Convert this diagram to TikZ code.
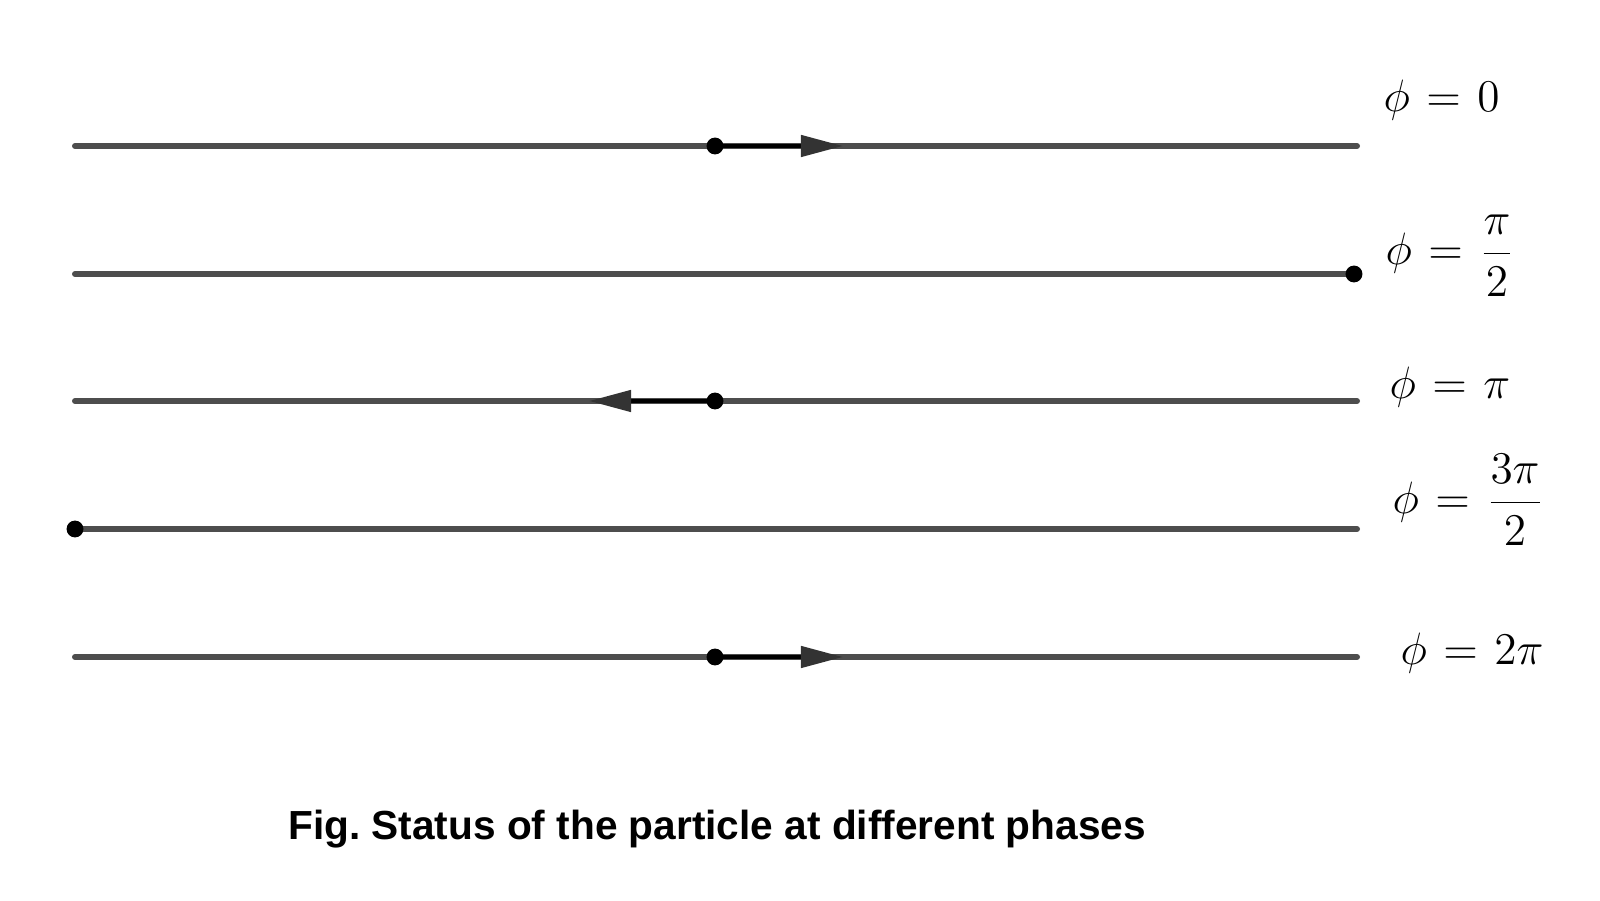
\RequirePackage{fix-cm}
\documentclass[tikz,border=0pt]{standalone}
\usepackage{amsmath}
\usepackage{fontspec}
\setsansfont{Liberation Sans}
\usetikzlibrary{arrows.meta}

\definecolor{rodgray}{RGB}{77,77,77}
\definecolor{headgray}{RGB}{51,51,51}

\begin{document}
\begin{tikzpicture}[x=0.01cm,y=-0.01cm,
    rod/.style={line width=1.7pt,rodgray,line cap=round},
    push/.style={line width=1.3pt,black,-{Triangle[length=12pt,width=6pt,color=headgray]}},
    particle/.style={circle,fill=black,inner sep=0pt,minimum size=4.8pt},
    phase/.style={anchor=base west,inner sep=0pt,font={\fontsize{12.9}{15}\selectfont\thickmuskip=6.5mu}}]
  \useasboundingbox (0,0) rectangle (1600,901);
  % ends of the five rods
  \coordinate (a1) at (75,146);  \coordinate (b1) at (1357,146);
  \coordinate (a2) at (75,274);  \coordinate (b2) at (1357,274);
  \coordinate (a3) at (75,401);  \coordinate (b3) at (1357,401);
  \coordinate (a4) at (75,529);  \coordinate (b4) at (1357,529);
  \coordinate (a5) at (75,657);  \coordinate (b5) at (1357,657);
  \draw[rod] (a1) -- (b1);
  \draw[rod] (a2) -- (b2);
  \draw[rod] (a3) -- (b3);
  \draw[rod] (a4) -- (b4);
  \draw[rod] (a5) -- (b5);
  % velocity arrows
  \coordinate (v1) at (843,146);
  \coordinate (v3) at (589,401);
  \coordinate (v5) at (843,657);
  \draw[push] (715,146) coordinate (s1) -- (v1);
  \draw[push] (715,401) coordinate (s3) -- (v3);
  \draw[push] (715,657) coordinate (s5) -- (v5);
  % the particle
  \node[particle] (p1) at (s1) {};
  \node[particle] (p2) at (1354,274) {};
  \node[particle] (p3) at (s3) {};
  \node[particle] (p4) at (a4) {};
  \node[particle] (p5) at (s5) {};
  % phases
  \node[phase] (ph1) at (1383,112) {$\phi = 0$};
  \node[phase] (ph2) at (1385,265) {$\phi = \dfrac{\pi}{2}$};
  \node[phase] (ph3) at (1389,399) {$\phi = \pi$};
  \node[phase] (ph4) at (1392,514) {$\phi = \dfrac{3\pi}{2}$};
  \node[phase] (ph5) at (1400,665) {$\phi = 2\pi$};
  \node[anchor=base,inner sep=0pt,font=\sffamily\bfseries\fontsize{11.55}{14}\selectfont] (caption) at (717,840)
    {Fig.\ Status of the particle at different phases};
\end{tikzpicture}
\end{document}
